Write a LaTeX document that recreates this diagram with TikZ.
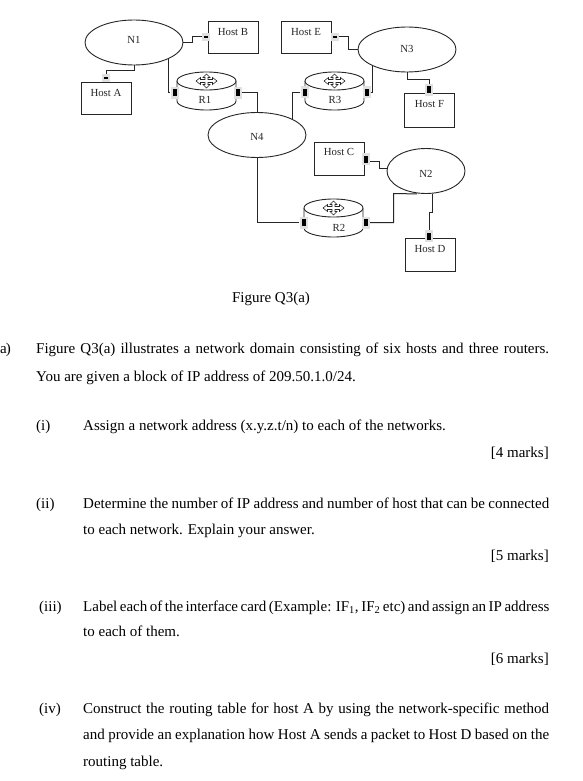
\documentclass[tikz,border=0pt]{standalone}
\usepackage{fontspec}
\usetikzlibrary{shapes.geometric}
\setmainfont{Liberation Serif}
\newcommand{\diaglabel}{\fontsize{10.8}{12}\selectfont}
\newcommand{\bodytext}{\fontsize{15}{17}\selectfont}
\tikzset{
  net/.style={draw=black!85,line width=0.9pt,ellipse,fill=white,inner sep=0pt,minimum width=#1,minimum height=45pt},
  net/.default=98pt,
  hostbox/.style={draw=black!85,line width=0.9pt,rectangle,fill=white,minimum width=50pt,minimum height=32pt,inner sep=0pt},
  hostname/.style={font=\diaglabel,inner sep=0pt,anchor=base,text=black!85},
  link/.style={draw=black!85,line width=1pt},
  portbig/.style={rectangle,fill=black!12,minimum width=8pt,minimum height=12pt,inner sep=0pt,
    path picture={\fill[black] ([xshift=-2pt,yshift=-3.5pt]path picture bounding box.center) rectangle ([xshift=2pt,yshift=3.5pt]path picture bounding box.center);}},
  portsmall/.style={rectangle,fill=black!12,minimum width=8pt,minimum height=8pt,inner sep=0pt,
    path picture={\fill[black] ([xshift=-2pt,yshift=-1pt]path picture bounding box.center) rectangle ([xshift=2pt,yshift=1pt]path picture bounding box.center);}},
  txt/.style={font=\bodytext,inner sep=0pt,anchor=base west,text=black},
  txtr/.style={font=\bodytext,inner sep=0pt,anchor=base east,text=black},
  txtc/.style={font=\bodytext,inner sep=0pt,anchor=base,text=black},
  pics/router/.style={code={
    \draw[draw=black!85,line width=0.9pt,fill=white] (-29.5,0) -- (-29.5,20) .. controls (-29.5,25) and (-16,29) .. (0,29) .. controls (16,29) and (29.5,25) .. (29.5,20) -- (29.5,0);
    \node[draw=black!85,line width=0.9pt,ellipse,fill=white,minimum width=59pt,minimum height=18pt,inner sep=0pt] (-top) at (0,0) {};
    \draw[draw=black!85,line width=0.6pt,fill=white] (-10.5,0) -- (-6,-3.5) -- (-6,-1.5) -- (-1.5,-1.5) -- (-1.5,-3.5) -- (-3.5,-3.5) -- (0,-7) -- (3.5,-3.5) -- (1.5,-3.5) -- (1.5,-1.5) -- (6,-1.5) -- (6,-3.5) -- (10.5,0) -- (6,3.5) -- (6,1.5) -- (1.5,1.5) -- (1.5,3.5) -- (3.5,3.5) -- (0,7) -- (-3.5,3.5) -- (-1.5,3.5) -- (-1.5,1.5) -- (-6,1.5) -- (-6,3.5) -- cycle;
  }}
}
\newcommand{\justline}[1]{\makebox[466pt][s]{#1}}
\begin{document}
\begin{tikzpicture}[x=1pt,y=-1pt]
\useasboundingbox (0,0) rectangle (582,781);
\fill[white] (0,0) rectangle (582,781);
\node[net] (N1) at (134,42.5) {};
\node[net] (N4) at (257,135) {};
\node[net] (N3) at (407,49.5) {};
\node[net=78pt] (N2) at (426,171) {};
\node[hostname] (TN1) at (134,44) {N1};
\node[hostname] (TN4) at (257,140) {N4};
\node[hostname] (TN3) at (407,53) {N3};
\node[hostname] (TN2) at (426,177) {N2};
\node[hostbox] (HA) at (106.5,98) {};
\node[hostbox] (HB) at (233,37.5) {};
\node[hostbox] (HE) at (306,37.5) {};
\node[hostbox,minimum height=34pt] (HF) at (429.5,110) {};
\node[hostbox,minimum height=33pt] (HC) at (339,158.5) {};
\node[hostbox,minimum height=33pt] (HD) at (430,254.5) {};
\node[hostname] (LA) at (106,96.5) {Host A};
\node[hostname] (LB) at (233,36) {Host B};
\node[hostname] (LE) at (306,36) {Host E};
\node[hostname] (LF) at (429.5,107.5) {Host F};
\node[hostname] (LC) at (339,155.5) {Host C};
\node[hostname] (LD) at (430,252) {Host D};
\pic (R1) at (206.5,81) {router};
\pic (R3) at (334.5,81) {router};
\pic (R2) at (333.5,208) {router};
\node[hostname] (L1) at (205,103.5) {R1};
\node[hostname] (L3) at (335,103.5) {R3};
\node[hostname] (L2) at (339,231.5) {R2};
\node[portsmall] (pA) at (106,78) {};
\node[portsmall] (pB) at (206,37) {};
\node[portsmall] (pE) at (334.5,37) {};
\node[portbig] (pF) at (429,90) {};
\node[portbig] (pC) at (366,159) {};
\node[portbig] (pD) at (429,236) {};
\node[portbig] (pR1l) at (174.5,93) {};
\node[portbig] (pR1r) at (238,93) {};
\node[portbig] (pR3l) at (304.5,92.5) {};
\node[portbig] (pR3r) at (367,92.5) {};
\node[portbig] (pR2l) at (303.5,222.5) {};
\node[portbig] (pR2r) at (366,222.5) {};
\coordinate (j1) at (192.5,37);
\coordinate (j2) at (134,70.5);
\coordinate (j3) at (348.5,37);
\coordinate (j4) at (429,79.5);
\coordinate (j5) at (379.5,161);
\coordinate (j6) at (393.5,193.5);
\coordinate (j7) at (432,212.5);
\draw[link] (N1.east) -| (j1) -- (pB.west);
\draw[link] (N1.south) -- (j2) -| (pA.north);
\draw[link] (N1.-25.5) |- (pR1l.west);
\draw[link] (pR1r.east) -| (N4.north);
\draw[link] (pE.east) -- (j3) |- (N3.west);
\draw[link] (N3.-155) |- (pR3r.east);
\draw[link] (pR3l.west) -| (N4.24);
\draw[link] (N3.south) |- (j4) -- (pF.north);
\draw[link] (pC.east) ++(0,2) -- (j5) |- ([yshift=3pt]N2.west);
\draw[link] (N4.south) |- (pR2l.west);
\draw[link] (pR2r.east) -| (j6) -- ([xshift=-9pt]N2.south);
\draw[link] ([xshift=6pt]N2.south) |- (j7) -| (pD.north);
\node[txtc] (cap) at (271,302) {Figure Q3(a)};
\node[txt] (qa) at (0,353) {a\kern-1pt)};
\node[txt] (t1) at (36,353) {\makebox[513pt][s]{Figure Q3(a) illustrates a network domain consisting of six hosts and three routers.}};
\node[txt] (t2) at (36,381) {You are given a block of IP address of 209.50.1.0/24.};
\node[txt] (i) at (36,430) {(i)};
\node[txt] (i1) at (83,430) {Assign a network address (x.y.z.t/n) to each of the networks.};
\node[txtr] (m1) at (549,457) {[4 marks]};
\node[txt] (ii) at (36,508) {(ii)};
\node[txt] (ii1) at (83,508) {\justline{Determine the number of IP address and number of host that can be connected}};
\node[txt] (ii2) at (83,534) {to each network. Explain your answer.};
\node[txtr] (m2) at (549,560) {[5 marks]};
\node[txt] (iii) at (39,611) {(iii)};
\node[txt] (iii1) at (83,611) {\justline{Label each of the interface card (Example: IF\textsubscript{1}, IF\textsubscript{2} etc) and assign an IP address}};
\node[txt] (iii2) at (83,636) {to each of them.};
\node[txtr] (m3) at (549,663) {[6 marks]};
\node[txt] (iv) at (39,713) {(iv)};
\node[txt] (iv1) at (83,713) {\justline{Construct the routing table for host A by using the network-specific method}};
\node[txt] (iv2) at (83,739) {\justline{and provide an explanation how Host A sends a packet to Host D based on the}};
\node[txt] (iv3) at (83,766) {routing table.};
\end{tikzpicture}
\end{document}
